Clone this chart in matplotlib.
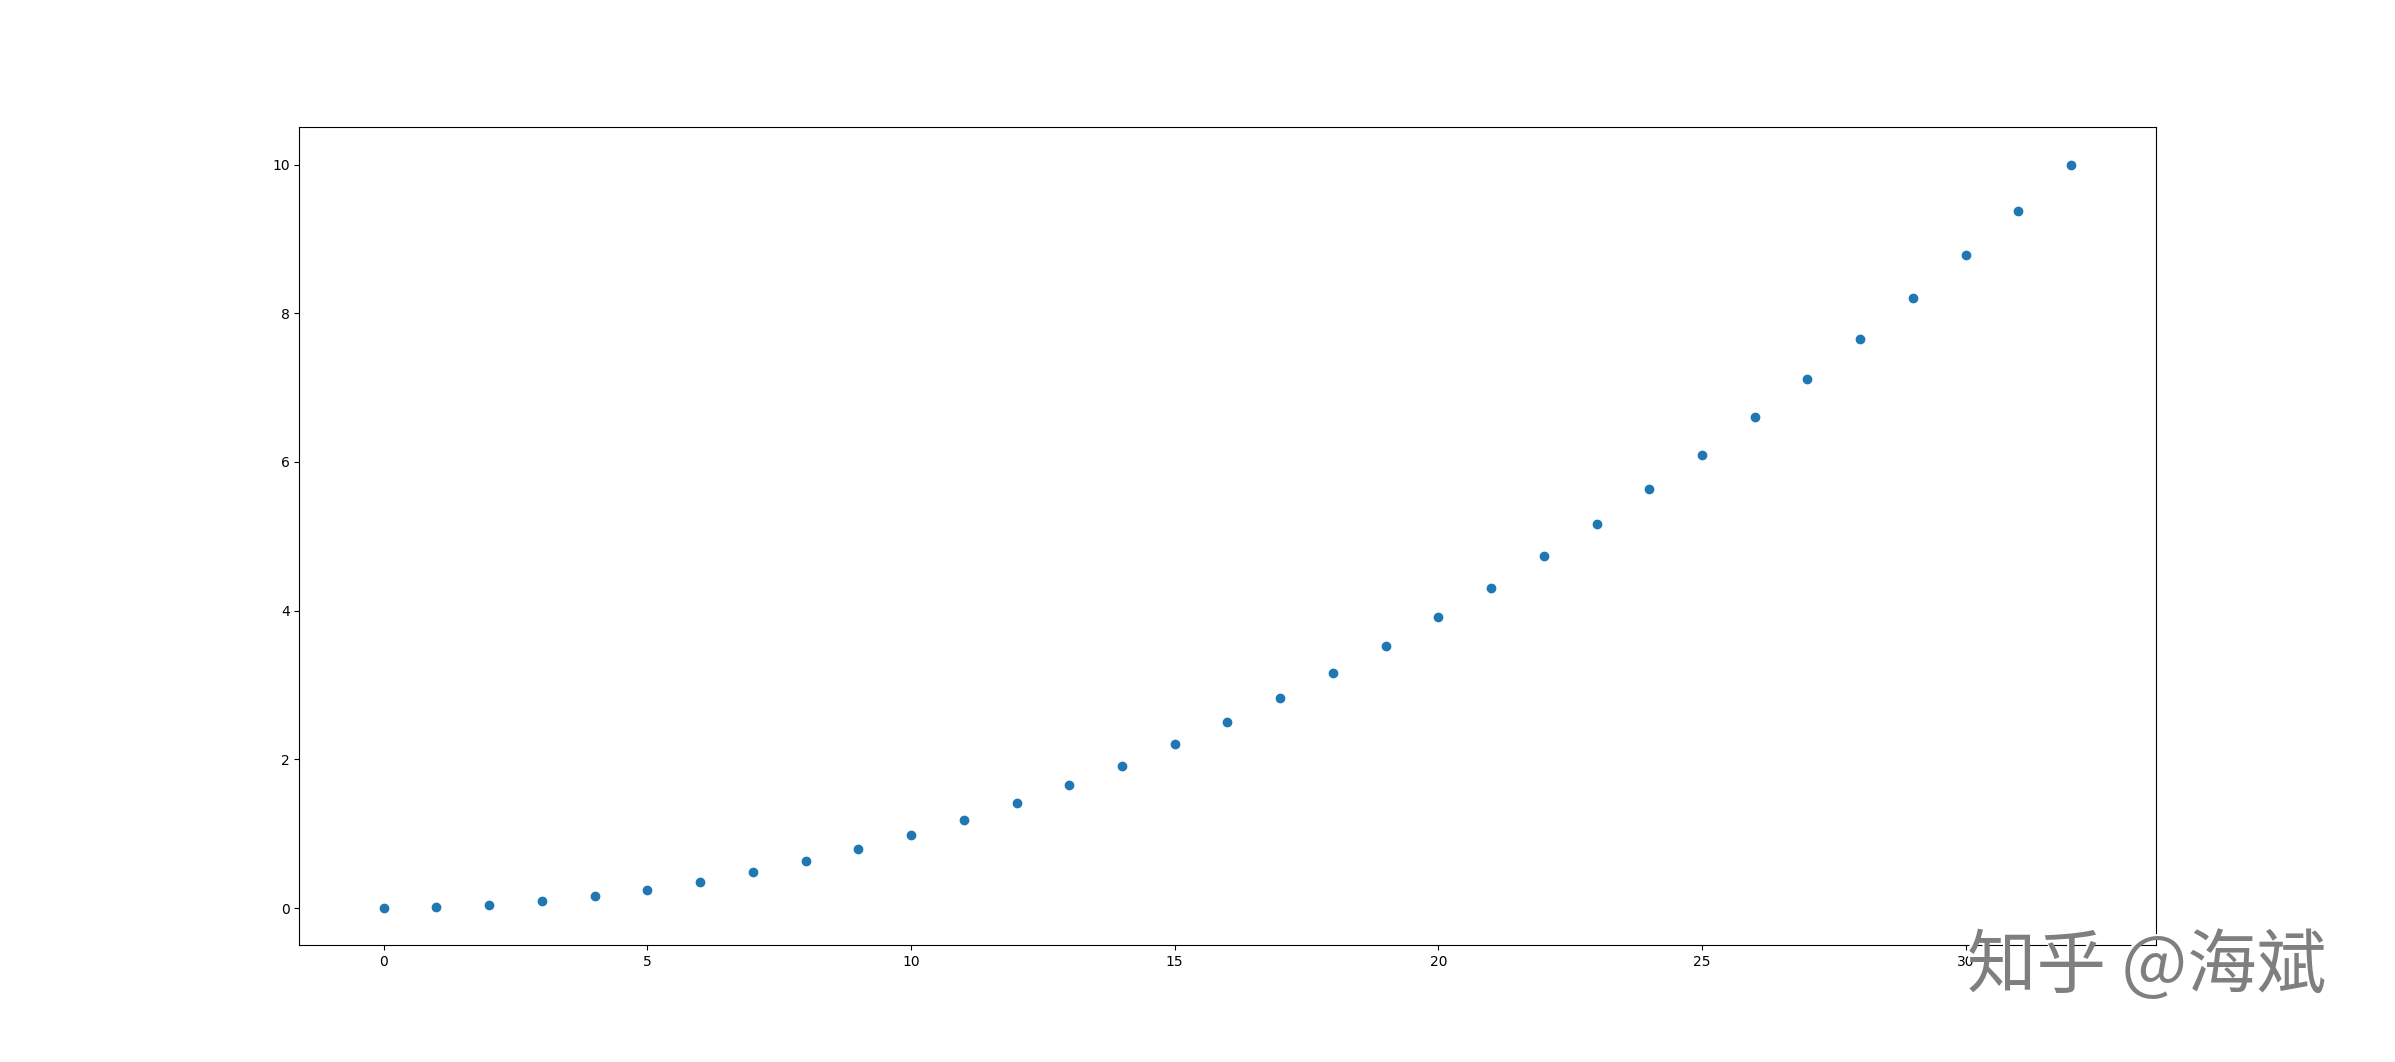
import matplotlib
matplotlib.use('Agg')
import matplotlib.pyplot as plt

# values
x = list(range(33))
y = [0.0, 0.01, 0.04, 0.09, 0.16, 0.24, 0.35, 0.48, 0.63, 0.79,
     0.98, 1.18, 1.41, 1.65, 1.91, 2.20, 2.50, 2.82, 3.16, 3.53,
     3.91, 4.31, 4.73, 5.17, 5.63, 6.10, 6.60, 7.12, 7.66, 8.21,
     8.79, 9.38, 10.0]

fig = plt.figure(figsize=(23.95, 10.62), dpi=100)
ax = fig.add_subplot(111)
ax.scatter(x, y)

# watermark
wm = '知乎 @海斌'
fam = ['Noto Sans CJK SC', 'DejaVu Sans']
fig.text(0.8955, 0.0915, wm, fontsize=50, color='white', ha='center', va='center',
         family=fam)
fig.text(0.8965, 0.0895, wm, fontsize=50, color='#7f7f7f', ha='center', va='center',
         family=fam)

fig.savefig('out.png', dpi=100)
